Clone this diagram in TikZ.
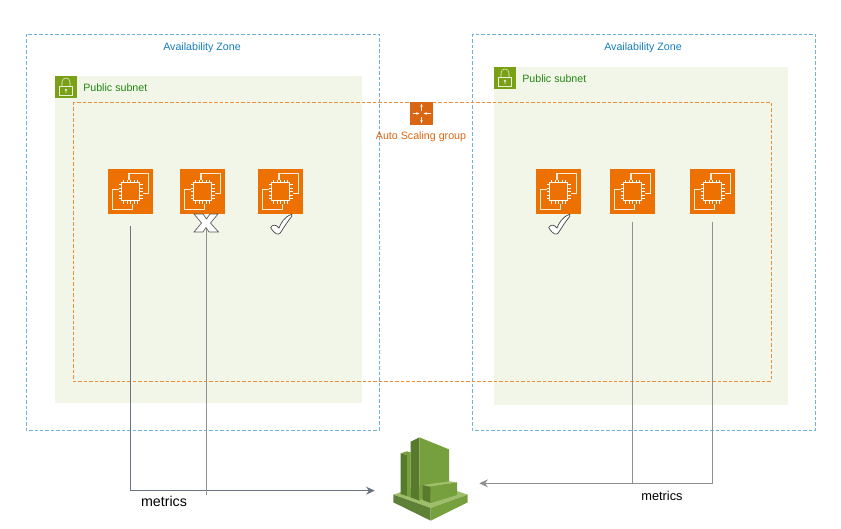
\documentclass[tikz,border=0pt]{standalone}
\usepackage{fontspec}
\setmainfont{Liberation Sans}
\usetikzlibrary{arrows.meta}
\definecolor{azblue}{HTML}{147EBA}
\definecolor{subnetfill}{HTML}{F2F6E8}
\definecolor{subnetgreen}{HTML}{248814}
\definecolor{lockgreen}{HTML}{7AA116}
\definecolor{ec2orange}{HTML}{ED7100}
\definecolor{asgorange}{HTML}{D86613}
\definecolor{cwlight}{HTML}{9FBE6C}
\definecolor{cwmid}{HTML}{769F3D}
\definecolor{cwdark}{HTML}{577A2C}
\definecolor{metricdark}{HTML}{6A7380}
\definecolor{metricgray}{HTML}{909090}
\tikzset{
  ec2icon/.pic={
    \draw[white, line width=0.9pt] (-9,-9) rectangle (9,9);
    \foreach \t in {-7,-3.5,0,3.5,7} {
      \draw[white, line width=0.5pt] (\t,-9) -- (\t,-12) (\t,9) -- (\t,12) (-9,\t) -- (-12,\t) (9,\t) -- (12,\t);
    }
    \draw[white!85!ec2orange, line width=0.9pt] (-1.5,-12) -- (-1.5,-18) -- (18,-18) -- (18,2) -- (12,2);
    \draw[white!85!ec2orange, line width=0.9pt] (-12,-2) -- (-18,-2) -- (-18,18) -- (2,18) -- (2,12);
  },
  lockicon/.pic={
    \draw[white!85!lockgreen, line width=0.4pt] (-6.5,-1) rectangle (6.5,8);
    \draw[white!85!lockgreen, line width=0.4pt] (-4,-1) -- (-4,-5) arc (180:360:4) -- (4,-1);
    \draw[white!85!lockgreen, line width=0.4pt] (0,3) circle (1) (0,4) -- (0,6);
  }
}
\begin{document}
\begin{tikzpicture}[
    x=0.75pt, y=-0.75pt,
    font=\fontsize{8}{10}\selectfont,
    zone/.style={draw=azblue!60, dash pattern=on 2.6pt off 1.5pt, line width=0.7pt},
    subnet/.style={fill=subnetfill},
    asgbox/.style={draw=ec2orange!80, dash pattern=on 2.6pt off 1.5pt, line width=0.7pt},
    ec2/.style={fill=ec2orange, minimum size=33.75pt, inner sep=0pt},
    square/.style={minimum size=16.5pt, inner sep=0pt},
    metric/.style={draw=metricgray, line width=0.7pt},
    metricarrow/.style={metric, -{Stealth[length=6.5pt, width=6pt]}}
  ]
  \useasboundingbox (0,0) rectangle (841,528);

  \fill[subnet] (55,76) rectangle (362,403);
  \fill[subnet] (494,67) rectangle (788,405);
  \draw[zone] (26,34) rectangle (379,430);
  \draw[zone] (472,34) rectangle (815,430);
  \draw[asgbox] (73,102) rectangle (771,381);

  \node (zonea) [text=azblue] at (202,47.5) {Availability Zone};
  \node (zoneb) [text=azblue] at (643,47.5) {Availability Zone};

  \node (locka) [square, fill=lockgreen] at (66,87) {};
  \node (lockb) [square, fill=lockgreen] at (505,78) {};
  \pic at (locka) {lockicon};
  \pic at (lockb) {lockicon};
  \node (subneta) [text=subnetgreen, anchor=west, inner sep=0pt] at (83,88) {Public subnet};
  \node (subnetb) [text=subnetgreen, anchor=west, inner sep=0pt] at (522,79) {Public subnet};

  \node (asg) [square, minimum size=17.25pt, fill=asgorange] at (421.5,113.5) {};
  \draw[white, line width=0.4pt, -{Stealth[length=2.5pt]}] (asg) ++(0,-3) -- ++(0,-7);
  \draw[white, line width=0.4pt, -{Stealth[length=2.5pt]}] (asg) ++(0,3) -- ++(0,7);
  \draw[white, line width=0.4pt, -{Stealth[length=2.5pt]}] (asg) ++(-9,0) -- ++(7,0);
  \draw[white, line width=0.4pt, -{Stealth[length=2.5pt]}] (asg) ++(9,0) -- ++(-7,0);
  \node (asglabel) [text=asgorange, inner sep=0pt] at (421,137) {Auto Scaling group};

  \node (ec2a) [ec2] at (130.5,191.5) {};
  \node (ec2b) [ec2] at (202.5,191.5) {};
  \node (ec2c) [ec2] at (280.5,191.5) {};
  \node (ec2d) [ec2] at (558.5,191.5) {};
  \node (ec2e) [ec2] at (632.5,191.5) {};
  \node (ec2f) [ec2] at (712.5,191.5) {};
  \foreach \n in {ec2a,ec2b,ec2c,ec2d,ec2e,ec2f} {
    \pic at (\n) {ec2icon};
  }

  % cloudwatch, the node only holds the arrow ends
  \node (cw) [minimum width=78pt, minimum height=45pt, inner sep=0pt] at (427,487) {};
  \begin{scope}[shift={(360,420)}, x=0.25pt, y=-0.25pt]
    \fill[cwlight] (100,224) -- (212,186) -- (323,224) -- (212,264) -- cycle;
    \fill[cwdark!95!white] (100,224) -- (212,264) -- (212,302) -- (100,247) -- cycle;
    \fill[cwmid] (212,264) -- (323,224) -- (323,247) -- (212,302) -- cycle;
    \fill[cwdark] (122,100) -- (141,105) -- (141,228) -- (122,222) -- cycle;
    \fill[cwmid] (122,100) -- (141,94) -- (152,97) -- (152,232) -- (141,228) -- (141,105) -- cycle;
    \fill[cwdark] (152,65) -- (178,52) -- (178,242) -- (152,232) -- cycle;
    \fill[cwmid] (178,52) -- (267,88) -- (267,190) -- (178,242) -- cycle;
    \fill[cwdark] (188,195) -- (212,200) -- (212,249) -- (188,240) -- cycle;
    \fill[cwlight] (188,195) -- (267,184) -- (291,187) -- (212,200) -- cycle;
    \fill[cwmid] (212,200) -- (291,187) -- (291,225) -- (212,249) -- cycle;
  \end{scope}

  \coordinate (failtop) at (206,226);
  \coordinate (failend) at (206,495);
  \draw[metricarrow, draw=metricdark, shorten <=9pt] (ec2a.south) -- (ec2a.south |- cw.184.4) -- (cw.184.4);
  \draw[metric] (failtop) -- (failend);
  \draw[metric, shorten <=6pt] (ec2e.south) -- (ec2e.south |- cw.4.4);
  \draw[metricarrow, shorten <=6pt] (ec2f.south) -- (ec2f.south |- cw.4.4) -- (cw.4.4);

  % failed and healthy marks
  \draw[fill=white, line width=0.5pt, draw=black!65] (194,214) -- (203,214) -- (206.5,219) -- (210,214) -- (218,214) -- (210.5,223) -- (218.5,232) -- (209,232) -- (206,227.5) -- (203,232) -- (194,232) -- (201.5,223) -- cycle;
  \foreach \mx in {270,548} {
    \draw[fill=white, line width=0.5pt, draw=black!75, xshift=\mx*0.75pt] (0.7,227.7) .. controls (2,224.5) and (6,224) .. (9,228) .. controls (11,223) and (14,217) .. (21.7,214.3) -- (21.7,216.5) .. controls (17,222) and (13,229) .. (10,233.3) .. controls (8,235) and (5,234.5) .. (0.7,227.7) -- cycle;
  }

  \node (metricsa) [font=\fontsize{10.7}{12}\selectfont, inner sep=0pt] at (164,501) {metrics};
  \node (metricsb) [font=\fontsize{9.6}{12}\selectfont, inner sep=0pt] at (662,496) {metrics};
\end{tikzpicture}
\end{document}
